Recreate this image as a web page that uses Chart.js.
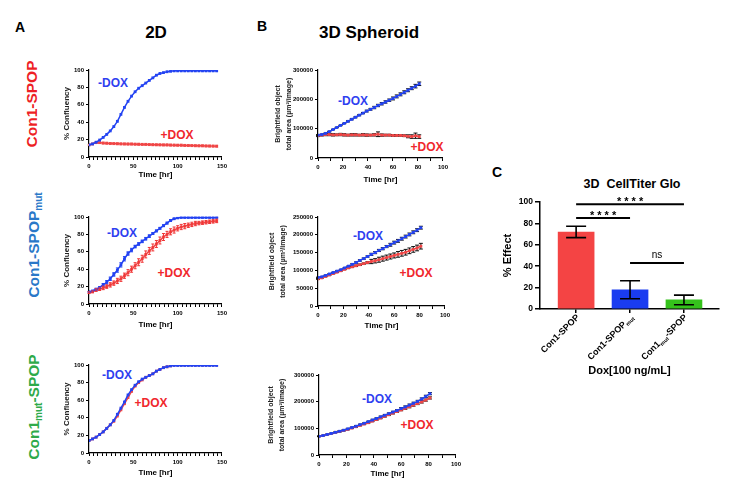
<!DOCTYPE html>
<html>
<head>
<meta charset="utf-8">
<script src="https://cdn.jsdelivr.net/npm/chart.js@4.4.1/dist/chart.umd.min.js"></script>
<style>
  body { margin: 0; width: 735px; height: 488px; background: #fff; position: relative; overflow: hidden;
         font-family: "Liberation Sans", Arial, sans-serif; }
  .t { position: absolute; transform: translate(-50%, -50%); font-weight: bold; white-space: nowrap; line-height: 1; }
  .rot { transform: translate(-50%, -50%) rotate(-90deg); font-size: 15.5px; }
  .rot sub { font-size: 10px; vertical-align: -3px; }
  .dox { font-size: 12px; }
  .minus { color: #2f3ff0; }
  .plus { color: #f0282d; }
</style>
</head>
<body>
<div class="t" style="left:20px;top:27px;font-size:14px">A</div>
<div class="t" style="left:156px;top:32px;font-size:17px">2D</div>
<div class="t" style="left:262px;top:26px;font-size:14px">B</div>
<div class="t" style="left:369px;top:32px;font-size:17px">3D Spheroid</div>
<div class="t" style="left:497px;top:172px;font-size:14px">C</div>
<div class="t" style="left:632px;top:184px;font-size:12.5px">3D&nbsp; CellTiter Glo</div>

<div class="t rot" style="left:32px;top:104px;color:#ee1f26">Con1-SPOP</div>
<div class="t rot" style="left:35px;top:245px;color:#2a78c8">Con1-SPOP<sub>mut</sub></div>
<div class="t rot" style="left:35px;top:407px;color:#2eaa4a">Con1<sub>mut</sub>-SPOP</div>

<div class="t dox minus" style="left:113px;top:83px">-DOX</div>
<div class="t dox plus" style="left:177px;top:135px">+DOX</div>
<div class="t dox minus" style="left:122px;top:233px">-DOX</div>
<div class="t dox plus" style="left:174px;top:273px">+DOX</div>
<div class="t dox minus" style="left:117px;top:375px">-DOX</div>
<div class="t dox plus" style="left:151px;top:403px">+DOX</div>
<div class="t dox minus" style="left:353px;top:101px">-DOX</div>
<div class="t dox plus" style="left:427px;top:147px">+DOX</div>
<div class="t dox minus" style="left:368px;top:236px">-DOX</div>
<div class="t dox plus" style="left:416px;top:273px">+DOX</div>
<div class="t dox minus" style="left:377px;top:399px">-DOX</div>
<div class="t dox plus" style="left:417px;top:425px">+DOX</div>

<script>
// ---- data ----
// 2D confluency (%), time in hours
const t2d = [0,4,8,12,16,20,24,28,32,36,40,44,48,52,56,60,64,68,72,76,80,84,88,92,96,100,104,108,112,116,120,124,128,132,136,140,144];
const a1Blue = [14,15,17,19.5,22.5,26,30,35,41,49,57,64,70,75,79,82,85,88,91,94,96,97,98,98.5,99,99,99,99,99,99,99,99,99,99,99,99,99];
const a1Red = [14,15,16.5,16.5,16,15.8,15.5,15.4,15.3,15.1,15,14.9,14.9,14.7,14.6,14.5,14.5,14.3,14.2,14.1,14,13.9,13.9,13.7,13.6,13.5,13.5,13.3,13.2,13.1,13,12.9,12.9,12.7,12.6,12.5,12.4];
const a1RedErr = [0.5,0.8,1,1,1.2,1.2,1.2,1.2,1.3,1.2,1.2,1.3,1.2,1.2,1.3,1.2,1.2,1.2,1.3,1.2,1.2,1.2,1.3,1.2,1.2,1.2,1.3,1.2,1.2,1.2,1.2,1.2,1.2,1.2,1.2,1.2,1.2];
const a2Blue = [14,15,17,19,22,25,29,34,39,45,52,58,62,66,69,72,75,78,81,84,87,90,93,96,98,99,99.5,99.5,99.5,99.5,99.5,99.5,99.5,99.5,99.5,99.5,99.5];
const a2BlueErr = [0.5,0.5,1,1,1.5,2,2,2,2.5,2.5,2.5,2,2,1.5,1.5,1.5,1.5,1.5,1,1,1,1,1,1,0.5,0.5,0.5,0.5,0.5,0.5,0.5,0.5,0.5,0.5,0.5,0.5,0.5];
const a2Red = [13,14,16,17,18.5,20,22,24,26.5,29,32.5,36,40,44,48,52,57,61,65,69,73,77,80,83,85,87,88.5,89.5,90.5,91.5,92.5,93,93.5,94,94.5,95,95.5];
const a2RedErr = [1,1,1.5,1.5,2,2,2.5,2.5,3,3,3,3.5,3.5,3.5,4,4,4,4,4,4,4,4,3.5,3.5,3.5,3,3,3,2.5,2.5,2.5,2,2,2,2,2,2];
const a3Blue = [14,16,18,21,24,28,32,37,44,51,58,66,72,77,81,84,86,88,90,93,95,97,98,99,99.5,99.5,99.5,99.5,99.5,99.5,99.5,99.5,99.5,99.5,99.5,99.5,99.5];
const a3Red = [14,16,18,21,24,28,32,36,42,49,56,63,70,76,80,83,86,88,90,93,95,97,98,99,100,100,100,100,100,100,100,100,100,100,100,100,100];

// 3D spheroid brightfield area (µm²/image), time in hours
const t3d = [0,3,6,9,12,15,18,21,24,27,30,33,36,39,42,45,48,51,54,57,60,63,66,69,72,75,78,81];
const b1Blue = [78000,80000,84000,90000,97000,104000,111000,118000,125000,132000,139000,146000,153000,160000,166000,172000,179000,185000,191000,197000,203000,210000,217000,224000,231000,238000,245000,253000];
const b1BlueErr = [1000,1000,1000,1000,1000,1000,1000,1000,2000,2000,2000,2000,2000,3000,3000,4000,4000,4000,4000,4000,5000,5000,5000,5000,5000,5000,6000,6000];
const b1Red = [76000,78000,80000,80000,79000,79000,80000,79000,78000,79000,79000,78000,79000,78000,78000,79000,81000,78000,78000,78000,77000,77000,77000,76000,74000,73000,76000,73000];
const b1RedErr = [3000,3000,4000,4000,4000,3000,4000,4000,3000,4000,4000,3000,4000,4000,3000,4000,8000,4000,3000,3000,3000,3000,3000,3000,5000,6000,9000,6000];
const b2Blue = [80000,82000,86000,90000,94000,98000,102000,107000,112000,117000,122000,128000,133000,139000,145000,150000,156000,161000,167000,172000,178000,183000,189000,195000,201000,207000,213000,220000];
const b2BlueErr = [1000,1000,1000,1000,1000,1000,1000,1000,1000,2000,2000,2000,2000,2000,3000,3000,3000,3000,3000,4000,4000,4000,4000,4000,4000,4000,4000,4000];
const b2Red = [76000,79000,83000,87000,91000,95000,99000,103000,107000,110000,113000,116000,119000,122000,125000,127000,130000,133000,136000,139000,142000,145000,148000,151000,155000,159000,163000,168000];
const b2RedErr = [1000,1000,1000,1000,1000,1000,1000,1000,1000,1000,2000,2000,2000,3000,6000,6000,7000,7000,7000,7000,7000,8000,8000,8000,8000,8000,8000,8000];
const b3Blue = [70000,73000,77000,81000,85000,89000,93000,98000,103000,108000,114000,119000,125000,131000,137000,143000,149000,155000,161000,167000,174000,180000,187000,194000,201000,210000,220000,230000];
const b3BlueErr = [1000,1000,1000,1000,2000,2000,2000,2000,2000,2000,2000,2000,2000,3000,3000,3000,3000,3000,3000,3000,4000,4000,4000,4000,4000,4000,4000,4000];
const b3Red = [70000,73000,77000,81000,85000,88000,92000,96000,101000,106000,111000,116000,121000,127000,133000,139000,145000,151000,157000,163000,169000,175000,181000,187000,193000,199000,206000,214000];
const b3RedErr = [1000,1000,1000,1000,1000,2000,2000,2000,2000,2000,2000,2000,2000,2000,3000,3000,3000,3000,3000,3000,3000,4000,4000,4000,4000,4000,4000,4000];

// 3D CellTiter Glo
const effectCats = ['Con1-SPOP', 'Con1-SPOP_{mut}', 'Con1_{mut}-SPOP'];
const effect = [72, 18, 8.5];
const effectErr = [5.3, 8.4, 4.5];
const sigFrom = [1, 1, 2];
const sigTo = [2, 3, 3];
const sigLevel = [85, 98, 43];
const sigText = ['* * * *', '* * * *', 'ns'];

const x2dLabels = [0, 50, 100, 150];
const x3dLabels = [0, 20, 40, 60, 80, 100];

// ---- setup ----
Chart.defaults.font.family = '"Liberation Sans", Arial, sans-serif';
Chart.defaults.color = '#000';

const BLUE = '#2343f2';
const RED = '#f04545';

function drawErrors(chart, under) {
  const ctx = chart.ctx;
  const ys = chart.scales.y;
  chart.data.datasets.forEach((ds, i) => {
    if (!ds.errors || !!ds.errorUnder !== under) return;
    const meta = chart.getDatasetMeta(i);
    ctx.save();
    ctx.strokeStyle = ds.errorColor;
    ctx.lineWidth = ds.errorWidth || 1;
    meta.data.forEach((el, j) => {
      const e = ds.errors[j];
      if (!e) return;
      const v = ds.data[j].y;
      const top = ys.getPixelForValue(v + e);
      const bot = ys.getPixelForValue(v - e);
      const w = ds.capWidth;
      ctx.beginPath();
      ctx.moveTo(el.x, top); ctx.lineTo(el.x, bot);
      ctx.moveTo(el.x - w, top); ctx.lineTo(el.x + w, top);
      ctx.moveTo(el.x - w, bot); ctx.lineTo(el.x + w, bot);
      ctx.stroke();
    });
    ctx.restore();
  });
}

const errorBars = {
  id: 'errorBars',
  beforeDatasetsDraw(chart) { drawErrors(chart, true); },
  afterDatasetsDraw(chart) { drawErrors(chart, false); }
};

function place(b) {
  const c = document.createElement('canvas');
  c.width = b.R - b.L + b.yW + b.padRight;
  c.height = b.B - b.T + b.padTop + b.xH;
  c.style.cssText = 'position:absolute;left:' + (b.L - b.yW) + 'px;top:' + (b.T - b.padTop) + 'px';
  document.body.appendChild(c);
  return c;
}

function growthChart(b, times, series, xAxis, yAxis) {
  new Chart(place(b), {
    type: 'line',
    data: {
      datasets: series.map(s => ({
        data: times.map((t, i) => ({x: t, y: s.values[i]})),
        errors: s.errors,
        errorColor: s.errorColor,
        errorUnder: s.under,
        capWidth: s.cap || 1.5,
        borderColor: s.color,
        backgroundColor: s.color,
        borderWidth: 1.5,
        pointStyle: 'rect',
        pointRadius: 2,
        pointBorderWidth: 0
      }))
    },
    options: {
      responsive: false,
      animation: false,
      layout: {padding: {top: b.padTop, right: b.padRight, left: 0, bottom: 0}},
      plugins: {legend: {display: false}, tooltip: {enabled: false}},
      scales: {
        x: {
          type: 'linear', min: 0, max: xAxis.max,
          afterFit: s => { s.height = b.xH; },
          ticks: {
            stepSize: xAxis.minor, autoSkip: false, maxRotation: 0, padding: 3,
            font: {size: 6, weight: 'bold'},
            callback: v => (xAxis.labels.includes(v) ? v : '')
          },
          grid: {drawOnChartArea: false, tickLength: 3, color: '#000'},
          border: {color: '#000', width: 1.2},
          title: {display: true, text: 'Time [hr]', padding: 0, font: {size: 8, weight: 'bold'}}
        },
        y: {
          min: 0, max: yAxis.max,
          afterFit: s => { s.width = b.yW; },
          ticks: {stepSize: yAxis.step, padding: 2, font: {size: 6, weight: 'bold'}, callback: v => v},
          grid: {drawOnChartArea: false, tickLength: 3, color: '#000'},
          border: {color: '#000', width: 1.2},
          title: {display: true, text: yAxis.title, padding: 0, font: yAxis.font, color: '#222'}
        }
      }
    },
    plugins: [errorBars]
  });
}

// ---- panel A: 2D ----
const ax2d = {max: 150, minor: 5, labels: x2dLabels};
const ayConf = {max: 100, step: 20, title: '% Confluency', font: {size: 8, weight: 'bold'}};

growthChart({L: 89, T: 70, R: 222, B: 157, yW: 27, xH: 23, padTop: 6, padRight: 8}, t2d, [
  {values: a1Blue, color: BLUE},
  {values: a1Red, color: RED, errors: a1RedErr, errorColor: '#f5a0a0', under: true}
], ax2d, ayConf);

growthChart({L: 89, T: 217, R: 222, B: 304, yW: 27, xH: 26, padTop: 6, padRight: 8}, t2d, [
  {values: a2Blue, color: BLUE, errors: a2BlueErr, errorColor: BLUE},
  {values: a2Red, color: RED, errors: a2RedErr, errorColor: '#f03535'}
], ax2d, ayConf);

growthChart({L: 89, T: 365, R: 222, B: 453, yW: 27, xH: 25, padTop: 6, padRight: 8}, t2d, [
  {values: a3Blue, color: BLUE},
  {values: a3Red, color: RED}
], ax2d, ayConf);

// ---- panel B: 3D spheroid ----
const ax3d = {max: 100, minor: 10, labels: x3dLabels};
const areaTitle = ['Brightfield object', 'total area (µm²/image)'];
const areaFont = {size: 7, weight: 'bold', lineHeight: 1.6};

growthChart({L: 318, T: 70, R: 443, B: 158, yW: 46, xH: 27, padTop: 6, padRight: 8}, t3d, [
  {values: b1Blue, color: BLUE, errors: b1BlueErr, errorColor: '#111', under: true, cap: 2},
  {values: b1Red, color: RED, errors: b1RedErr, errorColor: '#111', under: true, cap: 2}
], ax3d, {max: 300000, step: 100000, title: areaTitle, font: areaFont});

growthChart({L: 318, T: 217, R: 445, B: 306, yW: 52, xH: 25, padTop: 6, padRight: 8}, t3d, [
  {values: b2Blue, color: BLUE, errors: b2BlueErr, errorColor: '#111', under: true, cap: 2},
  {values: b2Red, color: RED, errors: b2RedErr, errorColor: '#111', under: true, cap: 2}
], ax3d, {max: 250000, step: 50000, title: areaTitle, font: areaFont});

growthChart({L: 319, T: 375, R: 456, B: 455, yW: 54, xH: 24, padTop: 6, padRight: 8}, t3d, [
  {values: b3Blue, color: BLUE, errors: b3BlueErr, errorColor: '#111', under: true, cap: 2},
  {values: b3Red, color: RED, errors: b3RedErr, errorColor: '#111', under: true, cap: 2}
], ax3d, {max: 300000, step: 100000, title: areaTitle, font: areaFont});

// ---- panel C: CellTiter Glo bars ----
const sigLines = {
  id: 'sigLines',
  afterDraw(chart) {
    const ctx = chart.ctx, xs = chart.scales.x, ys = chart.scales.y;
    ctx.save();
    ctx.strokeStyle = '#000';
    ctx.fillStyle = '#000';
    ctx.lineWidth = 2;
    ctx.textAlign = 'center';
    sigText.forEach((txt, i) => {
      const x1 = xs.getPixelForValue(sigFrom[i]);
      const x2 = xs.getPixelForValue(sigTo[i]);
      const y = ys.getPixelForValue(sigLevel[i]);
      ctx.beginPath();
      ctx.moveTo(x1, y); ctx.lineTo(x2, y);
      ctx.stroke();
      if (txt === 'ns') {
        ctx.font = '10px "Liberation Sans", Arial, sans-serif';
        ctx.fillText(txt, (x1 + x2) / 2, y - 5);
      } else {
        ctx.font = 'bold 11px "Liberation Sans", Arial, sans-serif';
        ctx.fillText(txt, (x1 + x2) / 2, y + 1);
      }
    });
    ctx.restore();
  }
};

const catLabels = {
  id: 'catLabels',
  afterDraw(chart) {
    const ctx = chart.ctx, xs = chart.scales.x;
    const base = chart.chartArea.bottom;
    const big = 'bold 9px "Liberation Sans", Arial, sans-serif';
    const small = 'bold 5.5px "Liberation Sans", Arial, sans-serif';
    effectCats.forEach((name, i) => {
      const parts = name.split(/_\{(.*?)\}/).map((p, k) => ({text: p, sub: k % 2 === 1})).filter(p => p.text);
      let total = 0;
      parts.forEach(p => { ctx.font = p.sub ? small : big; p.w = ctx.measureText(p.text).width; total += p.w; });
      ctx.save();
      ctx.translate(xs.getPixelForValue(i + 1) + 2, base + 7);
      ctx.rotate(-Math.PI / 4);
      ctx.fillStyle = '#000';
      ctx.textBaseline = 'middle';
      ctx.textAlign = 'left';
      let x = -total;
      parts.forEach(p => {
        ctx.font = p.sub ? small : big;
        ctx.fillText(p.text, x, p.sub ? 3 : 0);
        x += p.w;
      });
      ctx.restore();
    });
  }
};

const cBox = {L: 540, T: 202, R: 719, B: 309, yW: 39, xH: 69, padTop: 25, padRight: 10};
new Chart(place(cBox), {
  type: 'bar',
  data: {
    datasets: [{
      data: effect.map((v, i) => ({x: i + 1, y: v})),
      errors: effectErr,
      errorColor: '#000',
      errorWidth: 1.6,
      capWidth: 10,
      backgroundColor: ['#f44444', '#1a3cf0', '#35c21c'],
      borderWidth: 0,
      barThickness: 36
    }]
  },
  options: {
    responsive: false,
    animation: false,
    layout: {padding: {top: cBox.padTop, right: cBox.padRight, left: 0, bottom: 0}},
    plugins: {legend: {display: false}, tooltip: {enabled: false}},
    scales: {
      x: {
        type: 'linear', min: 0.33, max: 3.65, offset: false,
        afterBuildTicks: s => { s.ticks = effectCats.map((c, i) => ({value: i + 1})); },
        afterFit: s => { s.height = cBox.xH; },
        ticks: {display: false},
        grid: {drawOnChartArea: false, offset: false, tickLength: 4, color: '#000', lineWidth: 1.5},
        border: {color: '#000', width: 1.5},
        title: {display: true, text: 'Dox[100 ng/mL]', padding: 0, font: {size: 11, weight: 'bold'}}
      },
      y: {
        min: 0, max: 100,
        afterFit: s => { s.width = cBox.yW; },
        ticks: {stepSize: 20, padding: 2, font: {size: 8.5, weight: 'bold'}},
        grid: {drawOnChartArea: false, tickLength: 5, color: '#000', lineWidth: 1.5},
        border: {color: '#000', width: 1.5},
        title: {display: true, text: '% Effect', padding: 0, font: {size: 11, weight: 'bold'}}
      }
    }
  },
  plugins: [errorBars, sigLines, catLabels]
});
</script>
</body>
</html>
